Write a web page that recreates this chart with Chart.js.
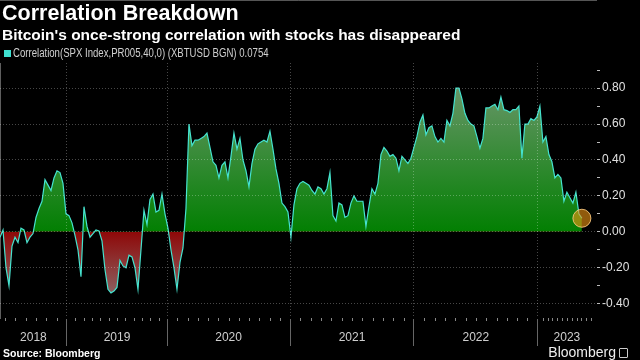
<!DOCTYPE html>
<html>
<head>
<meta charset="utf-8">
<script src="https://cdn.jsdelivr.net/npm/chart.js@4.4.0/dist/chart.umd.min.js"></script>
<style>
  html, body { margin: 0; padding: 0; background: #000; }
  #wrap { position: relative; width: 640px; height: 360px; overflow: hidden; background: #000;
          font-family: "Liberation Sans", Arial, sans-serif; color: #fff; }
  #wrap div { position: absolute; line-height: 1; white-space: nowrap; }
  #title { left: 2px; top: 3px; font-size: 21.5px; font-weight: bold; }
  #sub { left: 2px; top: 27px; font-size: 15.5px; font-weight: bold; }
  #legend { left: 4px; top: 47px; font-size: 12px; color: #d0d0d0; }
  #legend span { display: inline-block; width: 7px; height: 7px; background: #3fe0d0; margin-right: 2px; vertical-align: 0; }
  #legend b { font-weight: normal; display: inline-block; transform: scaleX(0.8); transform-origin: 0 50%; }
  #source { left: 3px; top: 348px; font-size: 10.5px; font-weight: bold; }
  #logo { right: 12px; top: 345px; font-size: 14px; color: #eee; }
  #logo span { display: inline-block; width: 7px; height: 8px; border: 1px solid #ccc; border-radius: 1px; margin-left: 3px; vertical-align: -1px; }
  canvas { position: absolute; left: 0; top: 0; }
</style>
</head>
<body>
<div id="wrap">
  <canvas id="chart" width="640" height="360"></canvas>
  <div id="title">Correlation Breakdown</div>
  <div id="sub">Bitcoin's once-strong correlation with stocks has disappeared</div>
  <div id="legend"><span></span><b>Correlation(SPX Index,PR005,40,0) (XBTUSD BGN) 0.0754</b></div>
  <div id="source">Source: Bloomberg</div>
  <div id="logo">Bloomberg<span></span></div>
</div>
<script>
const corr = [
  -0.03, 0.01, -0.20, -0.30, -0.08, -0.03, -0.06, 0.02, 0.01, -0.06,
  -0.03, -0.01, 0.08, 0.13, 0.17, 0.29, 0.26, 0.23, 0.30, 0.34,
  0.33, 0.27, 0.10, 0.09, 0.05, -0.02, -0.10, -0.25, 0.14, 0.03,
  -0.03, -0.01, 0.01, 0.005, -0.05, -0.21, -0.32, -0.34, -0.33, -0.31,
  -0.16, -0.19, -0.20, -0.13, -0.14, -0.20, -0.32, -0.10, 0.12, 0.04,
  0.18, 0.21, 0.11, 0.12, 0.21, 0.10, 0.02, -0.10, -0.20, -0.32,
  -0.17, -0.09, 0.13, 0.60, 0.48, 0.51, 0.51, 0.52, 0.53, 0.55,
  0.47, 0.39, 0.37, 0.30, 0.37, 0.39, 0.30, 0.42, 0.55, 0.46,
  0.52, 0.40, 0.34, 0.25, 0.38, 0.46, 0.49, 0.50, 0.51, 0.50,
  0.56, 0.46, 0.35, 0.27, 0.16, 0.14, 0.11, -0.03, 0.15, 0.24,
  0.27, 0.28, 0.27, 0.26, 0.23, 0.21, 0.25, 0.24, 0.21, 0.24,
  0.33, 0.09, 0.06, 0.16, 0.15, 0.08, 0.09, 0.16, 0.20, 0.17,
  0.17, 0.17, 0.03, 0.14, 0.24, 0.21, 0.27, 0.43, 0.47, 0.45,
  0.42, 0.43, 0.41, 0.34, 0.42, 0.40, 0.38, 0.41, 0.47, 0.53,
  0.61, 0.65, 0.54, 0.58, 0.59, 0.53, 0.50, 0.52, 0.50, 0.62,
  0.59, 0.66, 0.80, 0.80, 0.74, 0.66, 0.62, 0.60, 0.59, 0.53,
  0.465, 0.52, 0.69, 0.69, 0.70, 0.71, 0.68, 0.75, 0.68, 0.675,
  0.665, 0.68, 0.68, 0.70, 0.41, 0.60, 0.60, 0.63, 0.62, 0.64,
  0.70, 0.50, 0.53, 0.43, 0.39, 0.30, 0.32, 0.30, 0.17, 0.22,
  0.19, 0.16, 0.22, 0.10, 0.0754
];
const years = ['2018', '2019', '2020', '2021', '2022', '2023'];
// observation index at which each new year starts (2019..2023), and the axis end
const yearStarts = [22.3, 55.7, 96.7, 138, 179.3];
const xEnd = 198.7;
const yTicks = [-0.4, -0.3, -0.2, -0.1, 0, 0.1, 0.2, 0.3, 0.4, 0.5, 0.6, 0.7, 0.8, 0.9];

const edges = [0, ...yearStarts, xEnd];
const centers = years.map((y, k) => (edges[k] + edges[k + 1]) / 2);
const isMajor = v => Math.abs(Math.round(v * 10)) % 2 === 0;
const isEdge = v => yearStarts.some(s => Math.abs(s - v) < 1e-6);

// small monthly ticks under the time axis
const monthTicks = {
  id: 'monthTicks',
  afterDraw(chart) {
    const x = chart.scales.x, c = chart.ctx, yb = chart.chartArea.bottom;
    c.save();
    c.strokeStyle = '#888';
    c.lineWidth = 1;
    for (let k = 0; k < edges.length - 1; k++) {
      for (let m = 1; m < 12; m++) {
        const v = k === 0 ? edges[1] - (edges[1] - edges[0]) * m / 6.5 : edges[k] + (edges[k + 1] - edges[k]) * m / 12;
        if (v <= 0 || v >= xEnd) continue;
        const px = Math.round(x.getPixelForValue(v)) + 0.5;
        c.beginPath(); c.moveTo(px, yb); c.lineTo(px, yb + 3); c.stroke();
      }
    }
    c.restore();
  }
};

new Chart(document.getElementById('chart'), {
  type: 'line',
  data: {
    datasets: [{
      data: corr.map((v, i) => ({ x: i, y: v })),
      borderColor: '#45e3cf',
      borderWidth: 1.2,
      tension: 0,
      fill: ctx => {
        const c = ctx.chart, y = c.scales.y;
        const z = y ? y.getPixelForValue(0) : NaN;
        if (!c.chartArea || !isFinite(z)) return { target: 'origin', above: '#0a800a', below: '#8a0c0c' };
        const g1 = c.ctx.createLinearGradient(0, z, 0, y.getPixelForValue(0.85));
        g1.addColorStop(0, '#027f02');
        g1.addColorStop(1, '#6d976d');
        const g2 = c.ctx.createLinearGradient(0, z, 0, y.getPixelForValue(-0.35));
        g2.addColorStop(0, '#8e0808');
        g2.addColorStop(1, '#8c6262');
        return { target: 'origin', above: g1, below: g2 };
      },
      pointRadius: ctx => ctx.dataIndex === corr.length - 1 ? 9 : 0,
      pointHoverRadius: 0,
      pointBackgroundColor: 'rgba(240,150,20,0.6)',
      pointBorderColor: 'rgba(255,205,130,0.85)',
      pointBorderWidth: 1
    }]
  },
  options: {
    responsive: false,
    animation: false,
    events: [],
    layout: { autoPadding: false, padding: { top: 63, left: 0, right: 0, bottom: 0 } },
    plugins: { legend: { display: false }, tooltip: { enabled: false } },
    scales: {
      x: {
        type: 'linear', min: 0, max: xEnd,
        afterBuildTicks: s => {
          s.ticks = [...centers, ...yearStarts].sort((a, b) => a - b).map(v => ({ value: v }));
        },
        afterFit: s => { s.height = 42; s.paddingLeft = 0; s.paddingRight = 0; },
        ticks: {
          autoSkip: false, maxRotation: 0, padding: -16,
          color: '#cfcfcf', font: { family: 'Liberation Sans', size: 12 },
          callback: v => { const k = centers.findIndex(c => Math.abs(c - v) < 1e-6); return k >= 0 ? years[k] : ''; }
        },
        grid: {
          z: 1,
          color: ctx => ctx.tick && isEdge(ctx.tick.value) ? 'rgba(255,255,255,0.28)' : 'rgba(0,0,0,0)',
          tickColor: ctx => ctx.tick && isEdge(ctx.tick.value) ? '#666' : 'rgba(0,0,0,0)',
          tickLength: 28
        },
        border: { color: '#aaa', dash: [1, 2] }
      },
      y: {
        position: 'right', min: -0.48, max: 0.94,
        afterBuildTicks: s => { s.ticks = yTicks.map(v => ({ value: v })); },
        afterFit: s => { s.width = 44; s.paddingTop = 0; s.paddingBottom = 0; },
        ticks: {
          autoSkip: false, padding: 2,
          color: '#e0e0e0', font: { family: 'Liberation Sans', size: 12 },
          callback: v => isMajor(v) ? (Math.abs(v) < 1e-9 ? 0 : v).toFixed(2) : ''
        },
        grid: {
          z: 1,
          color: ctx => ctx.tick && isMajor(ctx.tick.value) ? 'rgba(255,255,255,0.28)' : 'rgba(0,0,0,0)',
          tickColor: '#bbb',
          tickLength: 4
        },
        border: { color: '#bbb', dash: [1, 2] }
      }
    }
  },
  plugins: [monthTicks]
});
</script>
</body>
</html>
